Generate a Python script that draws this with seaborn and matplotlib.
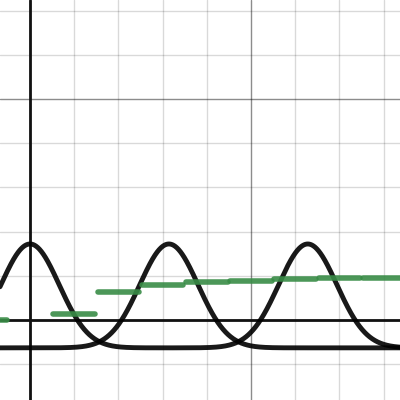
import numpy as np
import matplotlib
matplotlib.use("Agg")
import matplotlib.pyplot as plt
import seaborn as sns

sns.set_theme(style="white")

# step segments: left edges and values
step_left = [-1.5, 0.5, 1.5, 2.5, 3.5, 4.5, 5.5, 6.5, 7.5]
step_vals = [0.0, 0.14, 0.63, 0.79, 0.85, 0.89, 0.92, 0.94, 0.96]
# bump curves: peak centers
peaks_a = [0.0, 2 * np.pi]
peaks_b = [np.pi]
base, height, width = -0.63, 2.35, 0.66

xmin, xmax, ymin, ymax = -0.68, 8.37, -1.81, 7.24

fig = plt.figure(figsize=(4, 4), dpi=100)
ax = fig.add_axes([0, 0, 1, 1])
ax.set_xlim(xmin, xmax)
ax.set_ylim(ymin, ymax)

for v in range(-1, 9):
    ax.axvline(v, color="#000000", alpha=0.15 if v % 5 else 0.45, lw=1, zorder=0)
for v in range(-2, 8):
    ax.axhline(v, color="#000000", alpha=0.15 if v % 5 else 0.45, lw=1, zorder=0)
ax.axvline(0, color="#111111", lw=2, zorder=1)
ax.axhline(0, color="#111111", lw=2, zorder=1)

x = np.linspace(xmin, xmax, 1500)
for peaks in (peaks_a, peaks_b):
    y = base + height * sum(np.exp(-(x - p) ** 2 / (2 * width ** 2)) for p in peaks)
    sns.lineplot(x=x, y=y, ax=ax, color="black", lw=3.5, alpha=0.9, zorder=3)

for l, v in zip(step_left, step_vals):
    ax.plot([l + 0.03, l + 0.97], [v, v], color="#388c46", lw=4, alpha=0.9,
            solid_capstyle="round", zorder=4)

ax.set_xticks([]); ax.set_yticks([])
for s in ax.spines.values():
    s.set_visible(False)
fig.savefig("out.png", dpi=100)
